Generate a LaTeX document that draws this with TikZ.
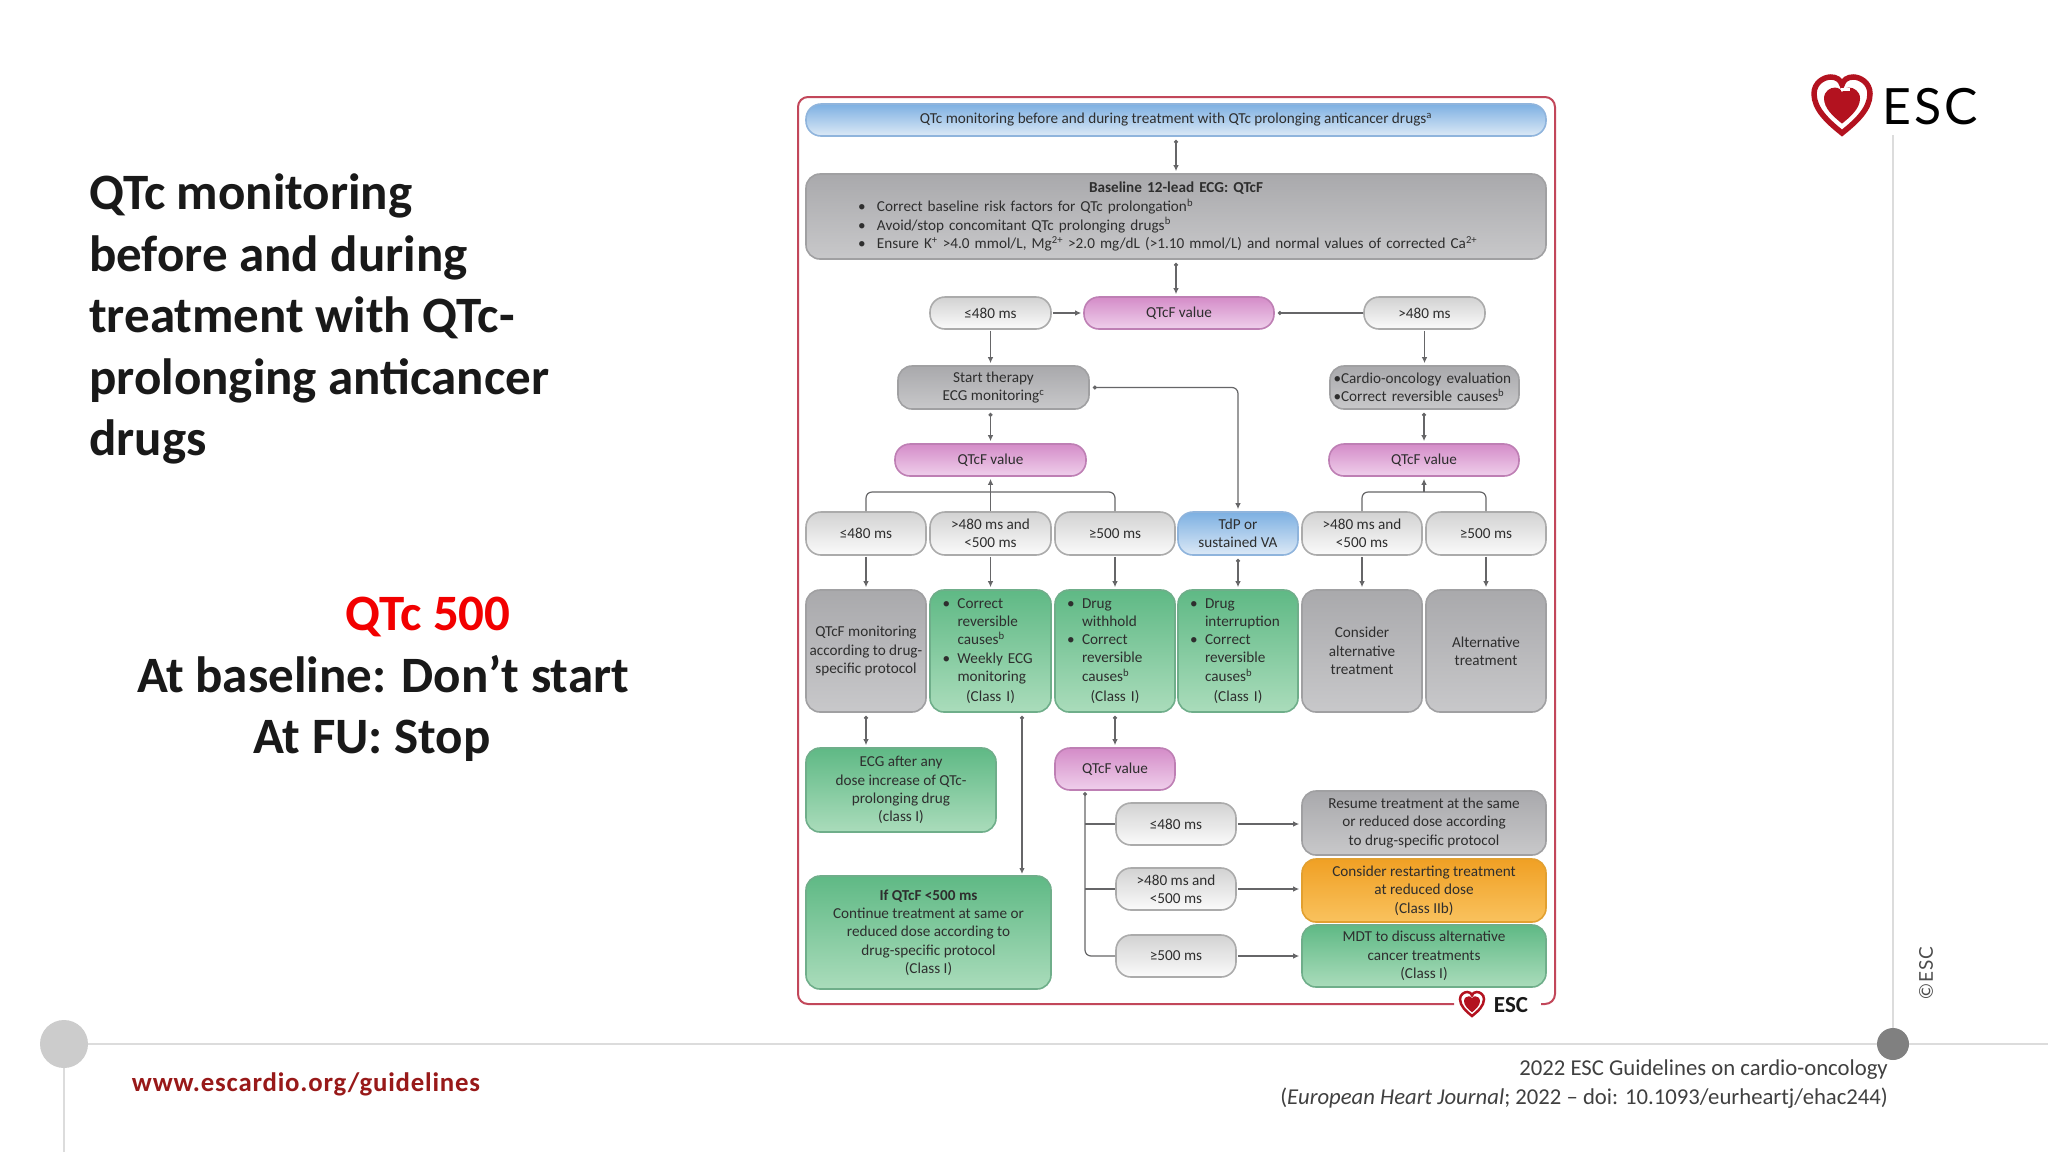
\documentclass[tikz,border=0pt]{standalone}
\usepackage{fontspec}
\setmainfont{Carlito}
\newfontfamily\escfont[LetterSpace=6]{Lato}
\newfontfamily\webfont[LetterSpace=3]{Carlito}
\usetikzlibrary{arrows.meta,calc}
\definecolor{txt}{HTML}{2E2E2E}
\definecolor{wirec}{HTML}{666668}
\definecolor{framec}{HTML}{C2475A}
\definecolor{heartc}{HTML}{B3121F}
\definecolor{rulec}{HTML}{DCDCDC}
\definecolor{grayT}{HTML}{A9A9AC}\definecolor{grayB}{HTML}{C8C8CA}\definecolor{grayD}{HTML}{A0A0A2}
\definecolor{greenT}{HTML}{5FB985}\definecolor{greenB}{HTML}{AADCBB}\definecolor{greenD}{HTML}{6FAE8A}
\definecolor{pinkT}{HTML}{D48CC8}\definecolor{pinkB}{HTML}{EFCFEB}\definecolor{pinkD}{HTML}{BE7FB4}
\definecolor{blueT}{HTML}{7DB0E2}\definecolor{blueB}{HTML}{DCE9F6}\definecolor{blueD}{HTML}{8FB4DC}
\definecolor{orT}{HTML}{F0A024}\definecolor{orB}{HTML}{F9C25E}\definecolor{orD}{HTML}{E2A030}
\definecolor{pillT}{HTML}{D2D2D2}\definecolor{pillB}{HTML}{FBFBFB}\definecolor{pillD}{HTML}{ABABAB}
\newcommand{\figf}{\fontsize{15.2}{18.3}\selectfont}
\newcommand{\bl}{\makebox[17pt][l]{\hspace{2pt}•}}
\newcommand{\ind}{\hspace{17pt}}
\newcommand{\bx}[7]{%
  \pgfmathsetmacro\cxx{(#2+#4)/2}%
  \pgfmathsetmacro\cyy{(#3+#5)/2}%
  \pgfmathsetmacro\wdd{#4-#2}%
  \pgfmathsetmacro\htt{#5-#3}%
  \node[#6, minimum width=\wdd pt, minimum height=\htt pt] (#1) at (\cxx,\cyy) {#7};}
\newcommand{\heartpath}{(0,1) .. controls (-0.5,0.6) and (-1,0.15) .. (-1,-0.4) .. controls (-1,-0.8) and (-0.65,-1) .. (-0.4,-1) .. controls (-0.2,-1) and (-0.05,-0.9) .. (0,-0.72) .. controls (0.05,-0.9) and (0.2,-1) .. (0.4,-1) .. controls (0.65,-1) and (1,-0.8) .. (1,-0.4) .. controls (1,0.15) and (0.5,0.6) .. (0,1) -- cycle}
\tikzset{
  box/.style={rectangle, rounded corners=14pt, inner sep=0pt, align=center, draw, line width=1.6pt, font=\figf, text=txt},
  graybox/.style={box, draw=grayD, top color=grayT, bottom color=grayB},
  greenbox/.style={box, draw=greenD, top color=greenT, bottom color=greenB},
  pinkbox/.style={box, rounded corners=15pt, draw=pinkD, top color=pinkT, bottom color=pinkB},
  bluebox/.style={box, rounded corners=15pt, draw=blueD, top color=blueT, bottom color=blueB},
  orangebox/.style={box, draw=orD, top color=orT, bottom color=orB},
  pillbox/.style={box, rounded corners=15pt, draw=pillD, top color=pillT, bottom color=pillB},
  wire/.style={draw=wirec, line width=1.2pt},
  conn/.style={wire, -{Latex[length=6pt,width=5.5pt]}, shorten >=2pt, shorten <=1pt},
  dotconn/.style={wire, {Circle[length=4pt,width=4pt]}-{Latex[length=6pt,width=5.5pt]}, shorten >=2pt, shorten <=3pt},
  dotend/.style={wire, -{Circle[length=4pt,width=4pt]}, shorten >=3pt},
  hline/.style={draw=rulec, line width=2pt},
  title/.style={font=\fontsize{51}{61.4}\selectfont\bfseries, align=left, text=black!90, inner sep=0pt},
  note/.style={font=\fontsize{51}{61.4}\selectfont\bfseries, inner sep=0pt, text=black!90},
  cite/.style={font=\fontsize{22.7}{28}\selectfont, inner sep=0pt, text=black!75}
}
\begin{document}
\begin{tikzpicture}[x=1pt,y=-1pt]
\useasboundingbox (0,0) rectangle (2048,1152);
\fill[white] (0,0) rectangle (2048,1152);

% slide furniture
\coordinate (leftdot) at (64,1044);
\coordinate (rightdot) at (1893,1044);
\coordinate (ruleend) at (2048,1044);
\coordinate (leftfoot) at (64,1152);
\coordinate (righttop) at (1893,135);
\draw[hline] (leftdot) -- (ruleend);
\draw[hline] (leftdot) -- (leftfoot);
\draw[hline] (rightdot) -- (righttop);
\fill[black!20] (leftdot) circle[radius=24];
\fill[black!50] (rightdot) circle[radius=16];

% left texts
\node[title, anchor=north west] (ttl) at (89,174) {QTc monitoring\\before and during\\treatment with QTc-\\prolonging anticancer\\drugs};
\node[note, text=red!95!black] (n1) at (428,617) {QTc 500};
\node[note] (n2) at (383,674) {At baseline: Don’t start};
\node[note] (n3) at (372,741) {At FU: Stop};
\node[font=\fontsize{26.8}{32}\selectfont\webfont\bfseries, text=red!55!black!90, inner sep=0pt] (web) at (306,1084) {www.escardio.org/guidelines};
\node[cite, anchor=east] (c1) at (1888,1070) {2022 ESC Guidelines on cardio-oncology};
\node[cite, anchor=east] (c2) at (1888,1098) {(\textit{European Heart Journal}; 2022 – doi: 10.1093/eurheartj/ehac244)};
\node[rotate=90, font=\fontsize{19}{22}\selectfont\escfont, text=black!70, inner sep=0pt] (copy) at (1926,973) {©ESC};

% big logo
\begin{scope}[shift={(1842,105)}, x=28pt, y=-28pt]
  \draw[heartc, line width=5.5pt] \heartpath;
  \fill[heartc] [shift={(0,0.02)}, x=18pt, y=-18pt] \heartpath;
  \fill[white] (-0.02,-0.62) rectangle (0.28,-0.5);
\end{scope}
\node[font=\fontsize{50}{54}\selectfont\escfont, text=black, inner sep=0pt] (esc) at (1930,107) {ESC};

% frame
\coordinate (fa) at (1454,1004);
\coordinate (fb) at (798,1004);
\coordinate (fc) at (798,97);
\coordinate (fd) at (1555,97);
\coordinate (fe) at (1555,1004);
\coordinate (ff) at (1541,1004);
\draw[framec, line width=2pt, rounded corners=10pt] (fa) -- (fb) -- (fc) -- (fd) -- (fe) -- (ff);
\begin{scope}[shift={(1472,1004)}, x=12pt, y=-12pt]
  \draw[heartc, line width=2.5pt] \heartpath;
  \fill[heartc] [shift={(0,0.02)}, x=8pt, y=-8pt] \heartpath;
\end{scope}
\node[font=\fontsize{23}{26}\selectfont\bfseries, text=black!90, inner sep=0pt] (escs) at (1511,1005) {ESC};

% boxes
\bx{top}{806}{104}{1546}{136}{bluebox}{QTc monitoring before and during treatment with QTc prolonging anticancer drugs\textsuperscript{a}}
\bx{base}{806}{174}{1546}{259}{graybox, text width=740pt, align=left}{\makebox[\linewidth][c]{\textbf{Baseline 12-lead ECG: QTcF}}\\[1pt]
\hspace{52pt}\makebox[19pt][l]{•}Correct baseline risk factors for QTc prolongation\textsuperscript{b}\\
\hspace{52pt}\makebox[19pt][l]{•}Avoid/stop concomitant QTc prolonging drugs\textsuperscript{b}\\
\hspace{52pt}\makebox[19pt][l]{•}Ensure K\textsuperscript{+} >4.0 mmol/L, Mg\textsuperscript{2+} >2.0 mg/dL (>1.10 mmol/L) and normal values of corrected Ca\textsuperscript{2+}}
\bx{pL}{930}{297}{1051}{329}{pillbox}{≤480 ms}
\bx{qT}{1084}{297}{1274}{329}{pinkbox}{QTcF value}
\bx{pR}{1364}{297}{1485}{329}{pillbox}{>480 ms}
\bx{st}{898}{366}{1089}{409}{graybox}{Start therapy\\ECG monitoring\textsuperscript{c}}
\bx{co}{1330}{366}{1519}{409}{graybox, text width=182pt, align=left}{•Cardio-oncology evaluation\\•Correct reversible causes\textsuperscript{b}}
\bx{qL}{895}{444}{1086}{476}{pinkbox}{QTcF value}
\bx{qR}{1329}{444}{1519}{476}{pinkbox}{QTcF value}

\bx{a1}{806}{512}{926}{555}{pillbox}{≤480 ms}
\bx{a2}{930}{512}{1051}{555}{pillbox}{>480 ms and\\<500 ms}
\bx{a3}{1055}{512}{1175}{555}{pillbox}{≥500 ms}
\bx{a4}{1178}{512}{1298}{555}{bluebox}{TdP or\\sustained VA}
\bx{a5}{1302}{512}{1422}{555}{pillbox}{>480 ms and\\<500 ms}
\bx{a6}{1426}{512}{1546}{555}{pillbox}{≥500 ms}

\bx{b1}{806}{590}{926}{712}{graybox}{QTcF monitoring\\according to drug-\\specific protocol}
\bx{b2}{930}{590}{1051}{712}{greenbox, text width=100pt, align=left}{\bl Correct\\\ind reversible\\\ind causes\textsuperscript{b}\\\bl Weekly ECG\\\ind monitoring\\[2pt]\makebox[\linewidth][c]{(Class I)}}
\bx{b3}{1055}{590}{1175}{712}{greenbox, text width=100pt, align=left}{\bl Drug\\\ind withhold\\\bl Correct\\\ind reversible\\\ind causes\textsuperscript{b}\\[2pt]\makebox[\linewidth][c]{(Class I)}}
\bx{b4}{1178}{590}{1298}{712}{greenbox, text width=100pt, align=left}{\bl Drug\\\ind interruption\\\bl Correct\\\ind reversible\\\ind causes\textsuperscript{b}\\[2pt]\makebox[\linewidth][c]{(Class I)}}
\bx{b5}{1302}{590}{1422}{712}{graybox}{Consider\\alternative\\treatment}
\bx{b6}{1426}{590}{1546}{712}{graybox}{Alternative\\treatment}

\bx{ecg}{806}{748}{996}{832}{greenbox}{ECG after any\\dose increase of QTc-\\prolonging drug\\(class I)}
\bx{cont}{806}{876}{1051}{989}{greenbox}{\textbf{If QTcF <500 ms}\\Continue treatment at same or\\reduced dose according to\\drug-specific protocol\\(Class I)}
\bx{q3}{1055}{748}{1175}{790}{pinkbox}{QTcF value}
\bx{r1}{1116}{803}{1236}{845}{pillbox}{≤480 ms}
\bx{r2}{1116}{868}{1236}{910}{pillbox}{>480 ms and\\<500 ms}
\bx{r3}{1116}{935}{1236}{977}{pillbox}{≥500 ms}
\bx{o1}{1302}{791}{1546}{855}{graybox}{Resume treatment at the same\\or reduced dose according\\to drug-specific protocol}
\bx{o2}{1302}{859}{1546}{922}{orangebox}{Consider restarting treatment\\at reduced dose\\(Class IIb)}
\bx{o3}{1302}{925}{1546}{987}{greenbox}{MDT to discuss alternative\\cancer treatments\\(Class I)}

% connectors
\draw[dotconn] (top.south) -- (base.north);
\draw[dotconn] (base.south) -- (base.south |- qT.north);
\draw[conn] (pL.east) -- (qT.west);
\draw[dotend] (pR.west) -- (qT.east);
\draw[conn] (pL.south) -- (st.north -| pL.south);
\draw[conn] (pR.south) -- (co.north -| pR.south);
\draw[dotconn] (st.south -| qL.north) -- (qL.north);
\draw[dotconn] (qR.north |- co.south) -- (qR.north);
\draw[wire, {Circle[length=4pt,width=4pt]}-{Latex[length=6pt,width=5.5pt]}, shorten >=2pt, shorten <=3pt, rounded corners=6pt] (st.east) -| (a4.north);

\coordinate (brL) at (990.5,492);
\coordinate (brR) at (1424,492);
\draw[wire, rounded corners=6pt] (a1.north) |- (brL) -| (a3.north);
\draw[conn, shorten <=0pt] (a2.north) -- (qL.south);
\draw[wire, rounded corners=6pt] (a5.north) |- (brR) -| (a6.north);
\draw[conn, shorten <=0pt] (brR) -- (qR.south);

\draw[conn] (a1.south) -- (b1.north);
\draw[conn] (a2.south) -- (b2.north);
\draw[conn] (a3.south) -- (b3.north);
\draw[dotconn] (a4.south) -- (b4.north);
\draw[conn] (a5.south) -- (b5.north);
\draw[conn] (a6.south) -- (b6.north);

\draw[dotconn] (b1.south) -- (b1.south |- ecg.north);
\coordinate (contin) at (1022,876);
\draw[dotconn] (b2.south -| contin) -- (contin);
\draw[dotconn] (b3.south) -- (q3.north);

\coordinate (brtop) at (1085,790);
\draw[wire, {Circle[length=4pt,width=4pt]}-, shorten <=2pt, rounded corners=6pt] (brtop) |- (r3.west);
\draw[wire] (brtop |- r1.west) -- (r1.west);
\draw[wire] (brtop |- r2.west) -- (r2.west);
\draw[conn] (r1.east) -- (r1.east -| o1.west);
\draw[conn] (r2.east) -- (r2.east -| o2.west);
\draw[conn] (r3.east) -- (r3.east -| o3.west);
\end{tikzpicture}
\end{document}
